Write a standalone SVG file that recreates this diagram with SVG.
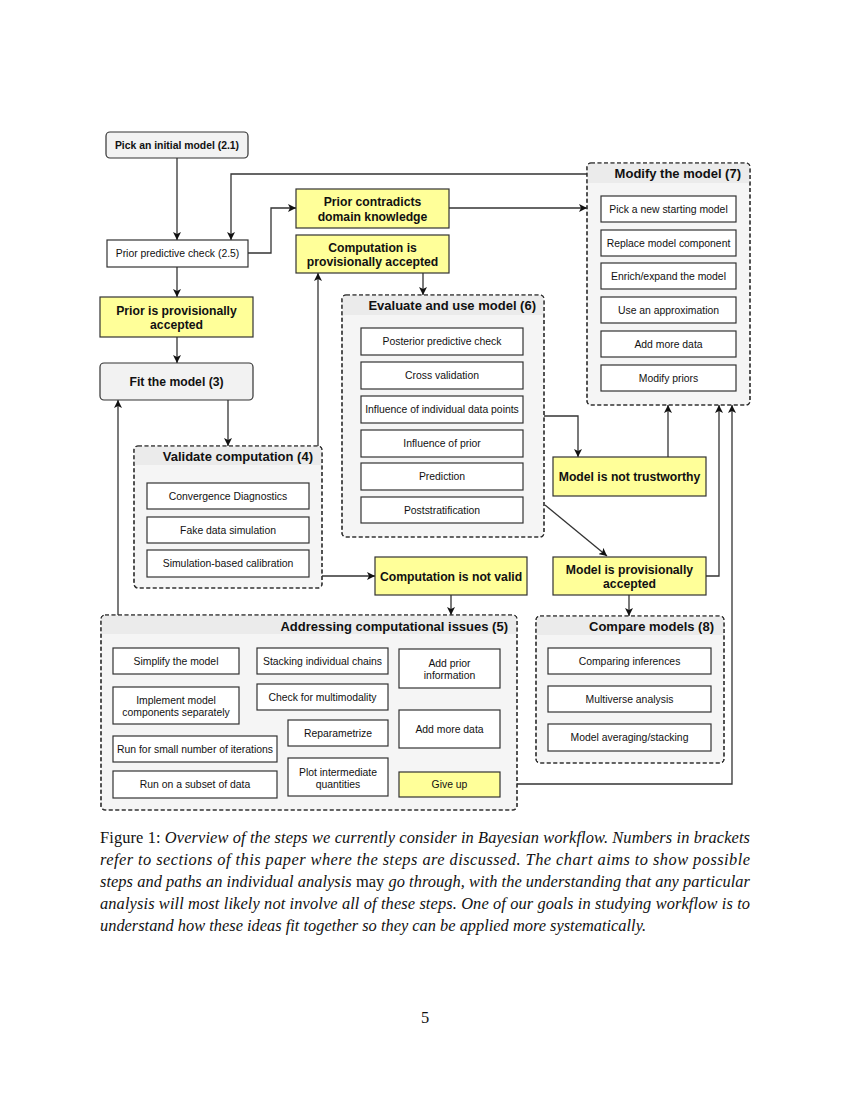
<svg xmlns="http://www.w3.org/2000/svg" width="850" height="1100" viewBox="0 0 850 1100">
<style>
.box{fill:#fff;stroke:#333;stroke-width:1.2}
.yel{fill:#ffff99;stroke:#333;stroke-width:1.2}
.rnd{fill:#f2f2f2;stroke:#333;stroke-width:1.2}
.grp{fill:#f5f5f5;stroke:#333;stroke-width:1.2;stroke-dasharray:4 2.5}
.hdr{fill:#ebebeb}
.t{font-family:"Liberation Sans",Arial,sans-serif;font-size:10.4px;fill:#111;text-anchor:middle}
.tb{font-family:"Liberation Sans",Arial,sans-serif;font-size:12.2px;font-weight:bold;fill:#111;text-anchor:middle}
.th{font-family:"Liberation Sans",Arial,sans-serif;font-size:13px;font-weight:bold;fill:#111;text-anchor:end}
.c{fill:none;stroke:#333;stroke-width:1.3}
.cap{font-family:"Liberation Serif","Times New Roman",serif;font-size:16.4px;fill:#111}
.it{font-style:italic}
</style>
<defs>
<marker id="ah" viewBox="0 0 10 10" refX="10" refY="5" markerWidth="8" markerHeight="8" markerUnits="userSpaceOnUse" orient="auto">
<path d="M0,0 L10,5 L0,10 L2.5,5 Z" fill="#111"/>
</marker>
</defs>

<g id="connectors">
<path class="c" d="M177,158 V240" marker-end="url(#ah)"/>
<path class="c" d="M587,174 H231 V240" marker-end="url(#ah)"/>
<path class="c" d="M248,253 H271 V208 H296" marker-end="url(#ah)"/>
<path class="c" d="M449,208 H587" marker-end="url(#ah)"/>
<path class="c" d="M177,267 V297" marker-end="url(#ah)"/>
<path class="c" d="M177,337 V363" marker-end="url(#ah)"/>
<path class="c" d="M228,400 V446" marker-end="url(#ah)"/>
<path class="c" d="M118,615 V400" marker-end="url(#ah)"/>
<path class="c" d="M318,446 V273" marker-end="url(#ah)"/>
<path class="c" d="M423,273 V295" marker-end="url(#ah)"/>
<path class="c" d="M322,576 H375" marker-end="url(#ah)"/>
<path class="c" d="M451,595 V615" marker-end="url(#ah)"/>
<path class="c" d="M544,416 H578 V457" marker-end="url(#ah)"/>
<path class="c" d="M668,457 V405" marker-end="url(#ah)"/>
<path class="c" d="M545,505 L607,556" marker-end="url(#ah)"/>
<path class="c" d="M706,576 H719 V405" marker-end="url(#ah)"/>
<path class="c" d="M629,595 V616" marker-end="url(#ah)"/>
<path class="c" d="M500,784 H732 V405" marker-end="url(#ah)"/>
</g>

<g id="pick-initial">
<rect class="rnd" x="106" y="132" width="142" height="26" rx="4"/>
<text class="t" x="177" y="149" font-weight="bold">Pick an initial model (2.1)</text>
</g>
<g id="prior-predictive">
<rect class="box" x="107" y="240" width="141" height="27"/>
<text class="t" x="177.5" y="257">Prior predictive check (2.5)</text>
</g>
<g id="prior-contradicts">
<rect class="yel" x="296" y="189" width="153" height="39"/>
<text class="tb" x="372.5" y="206">Prior contradicts</text>
<text class="tb" x="372.5" y="221">domain knowledge</text>
</g>
<g id="computation-accepted">
<rect class="yel" x="296" y="235" width="153" height="38"/>
<text class="tb" x="372.5" y="252">Computation is</text>
<text class="tb" x="372.5" y="266">provisionally accepted</text>
</g>
<g id="prior-accepted">
<rect class="yel" x="100" y="297" width="153" height="40"/>
<text class="tb" x="176.5" y="315">Prior is provisionally</text>
<text class="tb" x="176.5" y="329">accepted</text>
</g>
<g id="fit-model">
<rect class="rnd" x="100" y="363" width="153" height="37" rx="4"/>
<text class="tb" x="176.5" y="386">Fit the model (3)</text>
</g>

<g id="validate-computation">
<rect class="grp" x="134" y="446" width="188" height="142" rx="4"/>
<path class="hdr" d="M134.6,465 V450 Q134.6,446.6 138,446.6 H318 Q321.4,446.6 321.4,450 V465 Z"/>
<rect x="134" y="446" width="188" height="142" rx="4" fill="none" stroke="#333" stroke-width="1.2" stroke-dasharray="4 2.5"/>
<text class="th" x="313" y="461">Validate computation (4)</text>
<rect class="box" x="147" y="483" width="162" height="26"/>
<text class="t" x="228" y="499.5">Convergence Diagnostics</text>
<rect class="box" x="147" y="517" width="162" height="26"/>
<text class="t" x="228" y="533.5">Fake data simulation</text>
<rect class="box" x="147" y="550" width="162" height="27"/>
<text class="t" x="228" y="567">Simulation-based calibration</text>
</g>

<g id="computation-not-valid">
<rect class="yel" x="375" y="557" width="152" height="38"/>
<text class="tb" x="451" y="580.5">Computation is not valid</text>
</g>

<g id="evaluate-model">
<rect class="grp" x="342" y="295" width="202" height="242" rx="4"/>
<path class="hdr" d="M342.6,315 V299 Q342.6,295.6 346,295.6 H540 Q543.4,295.6 543.4,299 V315 Z"/>
<rect x="342" y="295" width="202" height="242" rx="4" fill="none" stroke="#333" stroke-width="1.2" stroke-dasharray="4 2.5"/>
<text class="th" x="536" y="310">Evaluate and use model (6)</text>
<rect class="box" x="361" y="328" width="162" height="27"/>
<text class="t" x="442" y="345">Posterior predictive check</text>
<rect class="box" x="361" y="362" width="162" height="27"/>
<text class="t" x="442" y="379">Cross validation</text>
<rect class="box" x="361" y="396" width="162" height="27"/>
<text class="t" x="442" y="413">Influence of individual data points</text>
<rect class="box" x="361" y="430" width="162" height="27"/>
<text class="t" x="442" y="447">Influence of prior</text>
<rect class="box" x="361" y="463" width="162" height="27"/>
<text class="t" x="442" y="480">Prediction</text>
<rect class="box" x="361" y="497" width="162" height="26"/>
<text class="t" x="442" y="513.5">Poststratification</text>
</g>

<g id="modify-model">
<rect class="grp" x="587" y="163" width="163" height="242" rx="4"/>
<path class="hdr" d="M587.6,183 V167 Q587.6,163.6 591,163.6 H746 Q749.4,163.6 749.4,167 V183 Z"/>
<rect x="587" y="163" width="163" height="242" rx="4" fill="none" stroke="#333" stroke-width="1.2" stroke-dasharray="4 2.5"/>
<text class="th" x="741" y="178">Modify the model (7)</text>
<rect class="box" x="601" y="196" width="135" height="26"/>
<text class="t" x="668.5" y="212.5">Pick a new starting model</text>
<rect class="box" x="601" y="230" width="135" height="26"/>
<text class="t" x="668.5" y="246.5">Replace model component</text>
<rect class="box" x="601" y="263" width="135" height="26"/>
<text class="t" x="668.5" y="279.5">Enrich/expand the model</text>
<rect class="box" x="601" y="297" width="135" height="26"/>
<text class="t" x="668.5" y="313.5">Use an approximation</text>
<rect class="box" x="601" y="331" width="135" height="26"/>
<text class="t" x="668.5" y="347.5">Add more data</text>
<rect class="box" x="601" y="365" width="135" height="26"/>
<text class="t" x="668.5" y="381.5">Modify priors</text>
</g>

<g id="not-trustworthy">
<rect class="yel" x="553" y="457" width="153" height="39"/>
<text class="tb" x="629.5" y="481">Model is not trustworthy</text>
</g>
<g id="model-accepted">
<rect class="yel" x="553" y="557" width="153" height="38"/>
<text class="tb" x="629.5" y="574">Model is provisionally</text>
<text class="tb" x="629.5" y="588">accepted</text>
</g>

<g id="compare-models">
<rect class="grp" x="536" y="616" width="188" height="147" rx="4"/>
<path class="hdr" d="M536.6,635 V620 Q536.6,616.6 540,616.6 H720 Q723.4,616.6 723.4,620 V635 Z"/>
<rect x="536" y="616" width="188" height="147" rx="4" fill="none" stroke="#333" stroke-width="1.2" stroke-dasharray="4 2.5"/>
<text class="th" x="714" y="631">Compare models (8)</text>
<rect class="box" x="548" y="648" width="163" height="26"/>
<text class="t" x="629.5" y="664.5">Comparing inferences</text>
<rect class="box" x="548" y="686" width="163" height="26"/>
<text class="t" x="629.5" y="702.5">Multiverse analysis</text>
<rect class="box" x="548" y="724" width="163" height="27"/>
<text class="t" x="629.5" y="741">Model averaging/stacking</text>
</g>

<g id="addressing-issues">
<rect class="grp" x="101" y="615" width="416" height="195" rx="4"/>
<path class="hdr" d="M101.6,634 V619 Q101.6,615.6 105,615.6 H513 Q516.4,615.6 516.4,619 V634 Z"/>
<rect x="101" y="615" width="416" height="195" rx="4" fill="none" stroke="#333" stroke-width="1.2" stroke-dasharray="4 2.5"/>
<text class="th" x="508" y="631">Addressing computational issues (5)</text>
<rect class="box" x="113" y="648" width="126" height="26"/>
<text class="t" x="176" y="664.5">Simplify the model</text>
<rect class="box" x="113" y="687" width="126" height="37"/>
<text class="t" x="176" y="704">Implement model</text>
<text class="t" x="176" y="716">components separately</text>
<rect class="box" x="113" y="736" width="164" height="26"/>
<text class="t" x="195" y="752.5">Run for small number of iterations</text>
<rect class="box" x="113" y="771" width="164" height="27"/>
<text class="t" x="195" y="788">Run on a subset of data</text>
<rect class="box" x="257" y="648" width="131" height="26"/>
<text class="t" x="322.5" y="664.5">Stacking individual chains</text>
<rect class="box" x="257" y="684" width="131" height="26"/>
<text class="t" x="322.5" y="700.5">Check for multimodality</text>
<rect class="box" x="288" y="720" width="100" height="26"/>
<text class="t" x="338" y="736.5">Reparametrize</text>
<rect class="box" x="288" y="758" width="100" height="38"/>
<text class="t" x="338" y="776">Plot intermediate</text>
<text class="t" x="338" y="788">quantities</text>
<rect class="box" x="399" y="649" width="101" height="39"/>
<text class="t" x="449.5" y="667">Add prior</text>
<text class="t" x="449.5" y="679">information</text>
<rect class="box" x="399" y="710" width="101" height="38"/>
<text class="t" x="449.5" y="733">Add more data</text>
<rect class="yel" x="399" y="772" width="101" height="25"/>
<text class="t" x="449.5" y="788">Give up</text>
</g>

<g id="caption">
<text class="cap" x="100" y="843" textLength="650" lengthAdjust="spacing">Figure 1: <tspan class="it">Overview of the steps we currently consider in Bayesian workflow.  Numbers in brackets</tspan></text>
<text class="cap it" x="100" y="865" textLength="650" lengthAdjust="spacing">refer to sections of this paper where the steps are discussed.  The chart aims to show possible</text>
<text class="cap" x="100" y="887" textLength="650" lengthAdjust="spacing"><tspan class="it">steps and paths an individual analysis</tspan> may <tspan class="it">go through, with the understanding that any particular</tspan></text>
<text class="cap it" x="100" y="909" textLength="650" lengthAdjust="spacing">analysis will most likely not involve all of these steps.  One of our goals in studying workflow is to</text>
<text class="cap it" x="100" y="931">understand how these ideas fit together so they can be applied more systematically.</text>
<text class="cap" x="425" y="1023" text-anchor="middle">5</text>
</g>
</svg>
